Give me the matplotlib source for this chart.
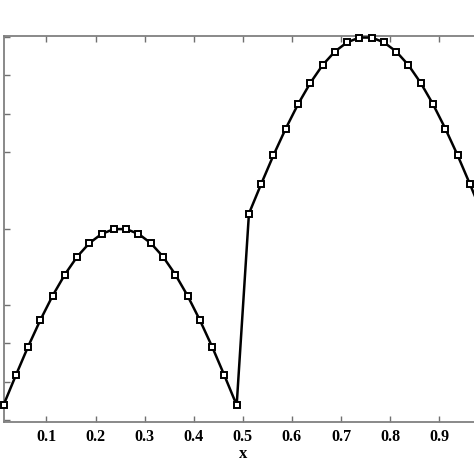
import numpy as np
import matplotlib.pyplot as plt

# cell centres (40 cells on [0, 1])
x = [0.0125, 0.0375, 0.0625, 0.0875, 0.1125, 0.1375, 0.1625, 0.1875, 0.2125, 0.2375,
     0.2625, 0.2875, 0.3125, 0.3375, 0.3625, 0.3875, 0.4125, 0.4375, 0.4625, 0.4875,
     0.5125, 0.5375, 0.5625, 0.5875, 0.6125, 0.6375, 0.6625, 0.6875, 0.7125, 0.7375,
     0.7625, 0.7875, 0.8125, 0.8375, 0.8625, 0.8875, 0.9125, 0.9375, 0.9625, 0.9875]

# left half and right half values
y_left = [0.078, 0.233, 0.383, 0.522, 0.649, 0.760, 0.853, 0.924, 0.972, 0.997,
          0.997, 0.972, 0.924, 0.853, 0.760, 0.649, 0.522, 0.383, 0.233, 0.078]
y_right = [1.078, 1.233, 1.383, 1.522, 1.649, 1.760, 1.853, 1.924, 1.972, 1.997,
           1.997, 1.972, 1.924, 1.853, 1.760, 1.649, 1.522, 1.383, 1.233, 1.078]
y = y_left + y_right

xticks = [0.1, 0.2, 0.3, 0.4, 0.5, 0.6, 0.7, 0.8, 0.9]
xtick_labels = ['0.1', '0.2', '0.3', '0.4', '0.5', '0.6', '0.7', '0.8', '0.9']
yticks = [0.0, 0.2, 0.4, 0.6, 1.0, 1.4, 1.6, 1.8, 2.0]

plt.rcParams['font.family'] = ['Liberation Serif', 'DejaVu Serif']

fig = plt.figure(figsize=(4.74, 4.74), dpi=100)
# the axes runs past the right edge of the picture (cropped figure)
ax = fig.add_axes([0.0074, 0.1097, 1.0097, 0.8143])

ax.plot(x, y, color='black', linewidth=1.8, marker='s', markersize=5,
        markerfacecolor='white', markeredgecolor='black', markeredgewidth=1.4,
        clip_on=False, zorder=3)

ax.set_xlim(0.0125, 0.9875)
ax.set_ylim(-0.01, 2.005)

ax.set_xticks(xticks)
ax.set_xticklabels(xtick_labels, fontsize=11.5, fontweight='bold')
ax.set_yticks(yticks)
ax.set_yticklabels([])

ax.tick_params(direction='in', length=4, width=1, color='#707070',
               top=True, right=True, pad=5)
for side in ['left', 'right', 'top', 'bottom']:
    ax.spines[side].set_color('#808080')
    ax.spines[side].set_linewidth(1.3)

ax.set_xlabel('x', fontsize=12, fontweight='bold', labelpad=1)

fig.savefig('out.png', dpi=100)
